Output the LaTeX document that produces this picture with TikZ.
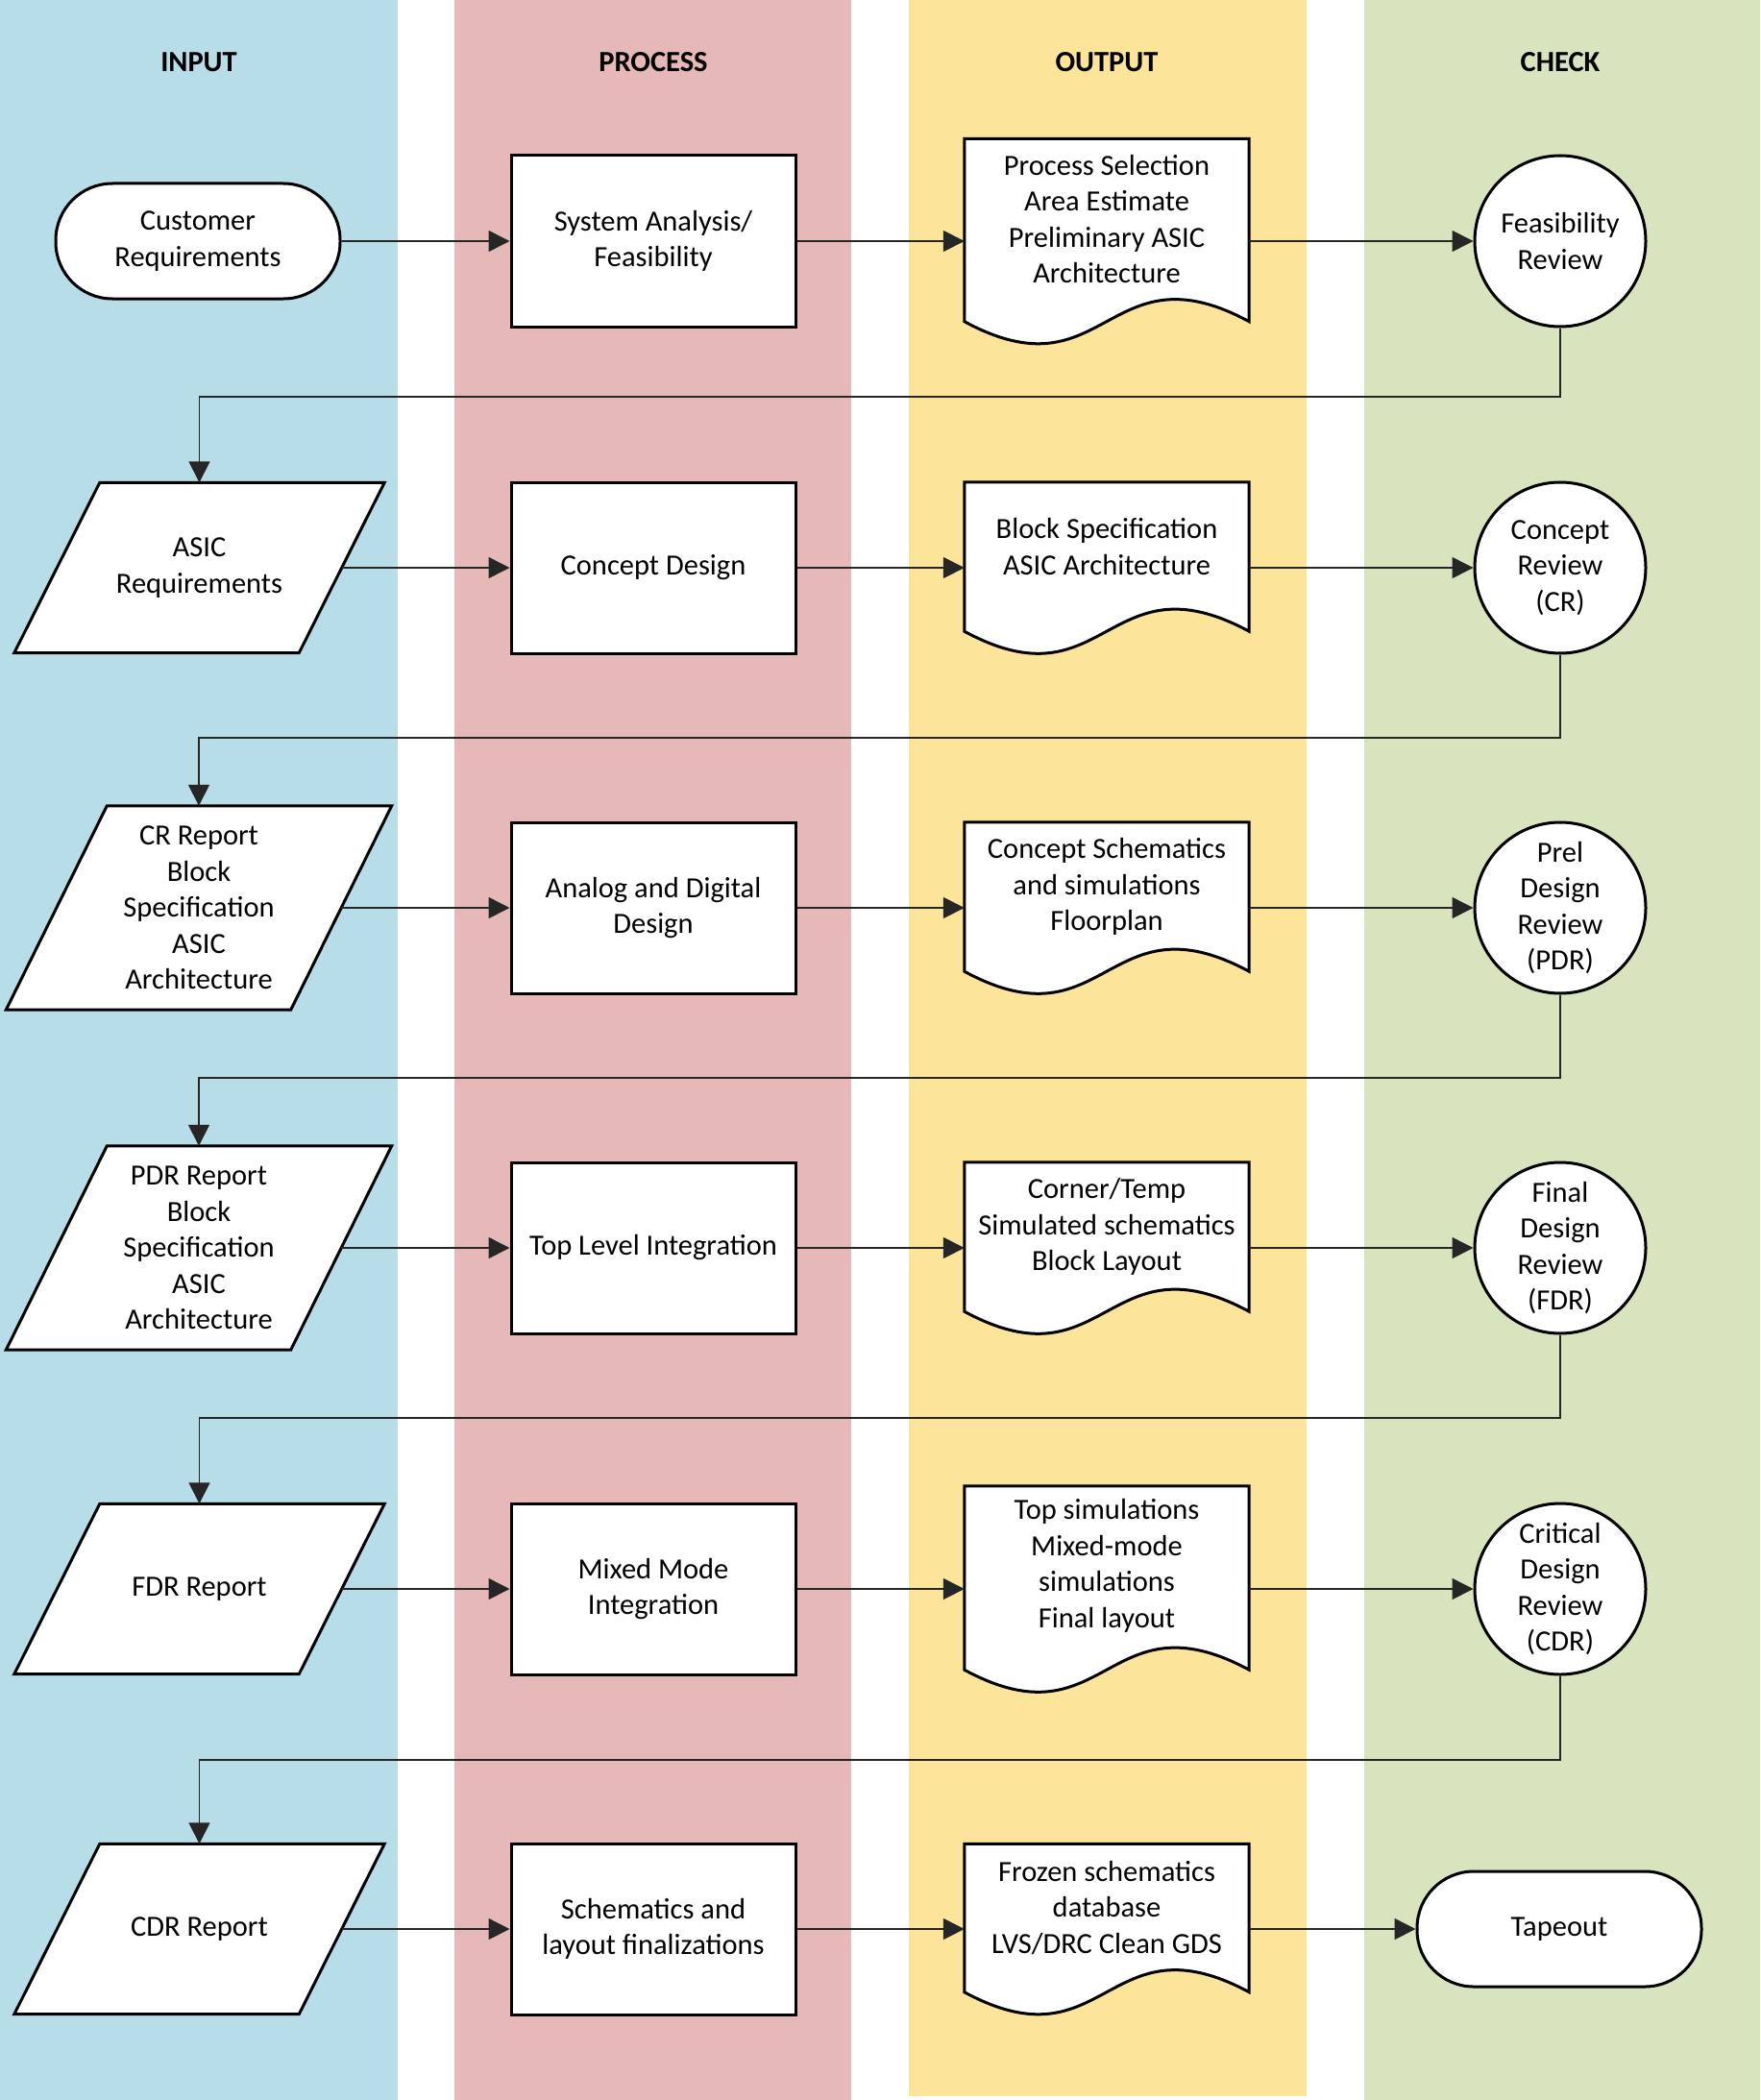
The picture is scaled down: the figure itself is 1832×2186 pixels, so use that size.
\documentclass[tikz,border=0pt]{standalone}
\usepackage{fontspec}
\setmainfont{Carlito}
\usetikzlibrary{arrows.meta,calc}
\pgfdeclarelayer{lanes}
\pgfdeclarelayer{shapes}
\pgfsetlayers{lanes,shapes,main}
\definecolor{laneblue}{HTML}{B7DDE8}
\definecolor{lanered}{HTML}{E6B9B8}
\definecolor{laneyellow}{HTML}{FDE49B}
\definecolor{lanegreen}{HTML}{D7E4BD}
\definecolor{connclr}{HTML}{262626}
\tikzset{
  txt/.style={font=\fontsize{30.5}{37.5}\selectfont, align=center, inner sep=0pt},
  shapeline/.style={draw=black, line width=3pt, fill=white},
  procbox/.style={txt, shapeline, rectangle, minimum width=296pt, minimum height=178pt},
  termbox/.style={txt, shapeline, rectangle, rounded corners=59pt, minimum width=296pt, minimum height=120pt},
  revcircle/.style={txt, shapeline, circle, minimum size=178pt},
  iobox/.style={txt, rectangle, minimum width=296pt, minimum height=#1},
  docbox/.style={rectangle, minimum width=296pt, minimum height=#1, inner sep=0pt},
  header/.style={font=\fontsize{30.5}{36}\selectfont\bfseries, inner sep=0pt},
  conn/.style={draw=connclr, line width=1.5pt, -{Triangle[length=22pt,width=22pt]}},
}
\newcommand\iodraw[2]{%
  \begin{pgfonlayer}{shapes}
    \draw[shapeline] ([xshift=#2]#1.north west) -- ([xshift=#2]#1.north east)
      -- ([xshift=-#2]#1.south east) -- ([xshift=-#2]#1.south west) -- cycle;
  \end{pgfonlayer}}
\newcommand\docdraw[1]{%
  \begin{pgfonlayer}{shapes}
    \draw[shapeline] ([yshift=23pt]#1.south west) -- (#1.north west) -- (#1.north east)
      -- ([yshift=23pt]#1.south east)
      .. controls ([xshift=148pt,yshift=103pt]#1.south west) and ([xshift=148pt,yshift=-57pt]#1.south west)
      .. ([yshift=23pt]#1.south west) -- cycle;
  \end{pgfonlayer}}
\begin{document}
\begin{tikzpicture}[x=1pt,y=-1pt]
\useasboundingbox (0,0) rectangle (1832,2186);
\begin{pgfonlayer}{lanes}
  \fill[laneblue] (0,0) rectangle (414,2186);
  \fill[lanered] (473,0) rectangle (886,2186);
  \fill[laneyellow] (946,0) rectangle (1360,2182);
  \fill[lanegreen] (1420,0) rectangle (1832,2186);
\end{pgfonlayer}

% headers
\node[header] (hin) at (207,65) {INPUT};
\node[header] (hpr) at (680,65) {PROCESS};
\node[header] (hout) at (1152,65) {OUTPUT};
\node[header] (hchk) at (1624,65) {CHECK};

% row 1
\node[termbox] (cust) at (206,251) {Customer\\Requirements};
\node[procbox] (pr1) at (680,251) {System Analysis/\\Feasibility};
\node[docbox=213pt] (d1) at (1152,251) {};
\docdraw{d1}
\node[txt] (d1t) at (1152,228) {Process Selection\\Area Estimate\\Preliminary ASIC\\Architecture};
\node[revcircle] (c1) at (1624,251) {Feasibility\\Review};

% row 2
\node[iobox=177pt] (io2) at (207.5,591) {ASIC\\Requirements};
\iodraw{io2}{44.5pt}
\node[procbox] (pr2) at (680,591) {Concept Design};
\node[docbox=178pt] (d2) at (1152,591) {};
\docdraw{d2}
\node[txt] (d2t) at (1152,569) {Block Specification\\ASIC Architecture};
\node[revcircle] (c2) at (1624,591) {Concept\\Review\\(CR)};

% row 3
\node[iobox=212pt] (io3) at (207,945) {CR Report\\Block\\Specification\\ASIC\\Architecture};
\iodraw{io3}{52.5pt}
\node[procbox] (pr3) at (680,945) {Analog and Digital\\Design};
\node[docbox=178pt] (d3) at (1152,945) {};
\docdraw{d3}
\node[txt] (d3t) at (1152,923) {Concept Schematics\\and simulations\\Floorplan};
\node[revcircle] (c3) at (1624,945) {Prel\\Design\\Review\\(PDR)};

% row 4
\node[iobox=212pt] (io4) at (207,1299) {PDR Report\\Block\\Specification\\ASIC\\Architecture};
\iodraw{io4}{52.5pt}
\node[procbox] (pr4) at (680,1299) {Top Level Integration};
\node[docbox=178pt] (d4) at (1152,1299) {};
\docdraw{d4}
\node[txt] (d4t) at (1152,1277) {Corner/Temp\\Simulated schematics\\Block Layout};
\node[revcircle] (c4) at (1624,1299) {Final\\Design\\Review\\(FDR)};

% row 5
\node[iobox=177pt] (io5) at (207.5,1654) {FDR Report};
\iodraw{io5}{44.5pt}
\node[procbox] (pr5) at (680,1654) {Mixed Mode\\Integration};
\node[docbox=214pt] (d5) at (1152,1654) {};
\docdraw{d5}
\node[txt] (d5t) at (1152,1630) {Top simulations\\Mixed-mode\\simulations\\Final layout};
\node[revcircle] (c5) at (1624,1654) {Critical\\Design\\Review\\(CDR)};

% row 6
\node[iobox=177pt] (io6) at (207.5,2008) {CDR Report};
\iodraw{io6}{44.5pt}
\node[procbox] (pr6) at (680,2008) {Schematics and\\layout finalizations};
\node[docbox=177pt] (d6) at (1152,2008) {};
\docdraw{d6}
\node[txt] (d6t) at (1152,1986) {Frozen schematics\\database\\LVS/DRC Clean GDS};
\node[termbox] (tape) at (1623,2008) {Tapeout};

% horizontal connectors
\draw[conn] (cust.east) -- (pr1.west);
\draw[conn] (pr1.east) -- (d1.west);
\draw[conn] (d1.east) -- (c1.west);
\draw[conn] (io2.east) -- (pr2.west);
\draw[conn] (pr2.east) -- (d2.west);
\draw[conn] (d2.east) -- (c2.west);
\draw[conn] (io3.east) -- (pr3.west);
\draw[conn] (pr3.east) -- (d3.west);
\draw[conn] (d3.east) -- (c3.west);
\draw[conn] (io4.east) -- (pr4.west);
\draw[conn] (pr4.east) -- (d4.west);
\draw[conn] (d4.east) -- (c4.west);
\draw[conn] (io5.east) -- (pr5.west);
\draw[conn] (pr5.east) -- (d5.west);
\draw[conn] (d5.east) -- (c5.west);
\draw[conn] (io6.east) -- (pr6.west);
\draw[conn] (pr6.east) -- (d6.west);
\draw[conn] (d6.east) -- (tape.west);

% feedback connectors
\coordinate (fb1) at (1624,413);
\coordinate (fb2) at (1624,768);
\coordinate (fb3) at (1624,1122);
\coordinate (fb4) at (1624,1476);
\coordinate (fb5) at (1624,1832);
\draw[conn] (c1.south) -- (fb1) -| (io2.north);
\draw[conn] (c2.south) -- (fb2) -| (io3.north);
\draw[conn] (c3.south) -- (fb3) -| (io4.north);
\draw[conn] (c4.south) -- (fb4) -| (io5.north);
\draw[conn] (c5.south) -- (fb5) -| (io6.north);
\end{tikzpicture}
\end{document}
